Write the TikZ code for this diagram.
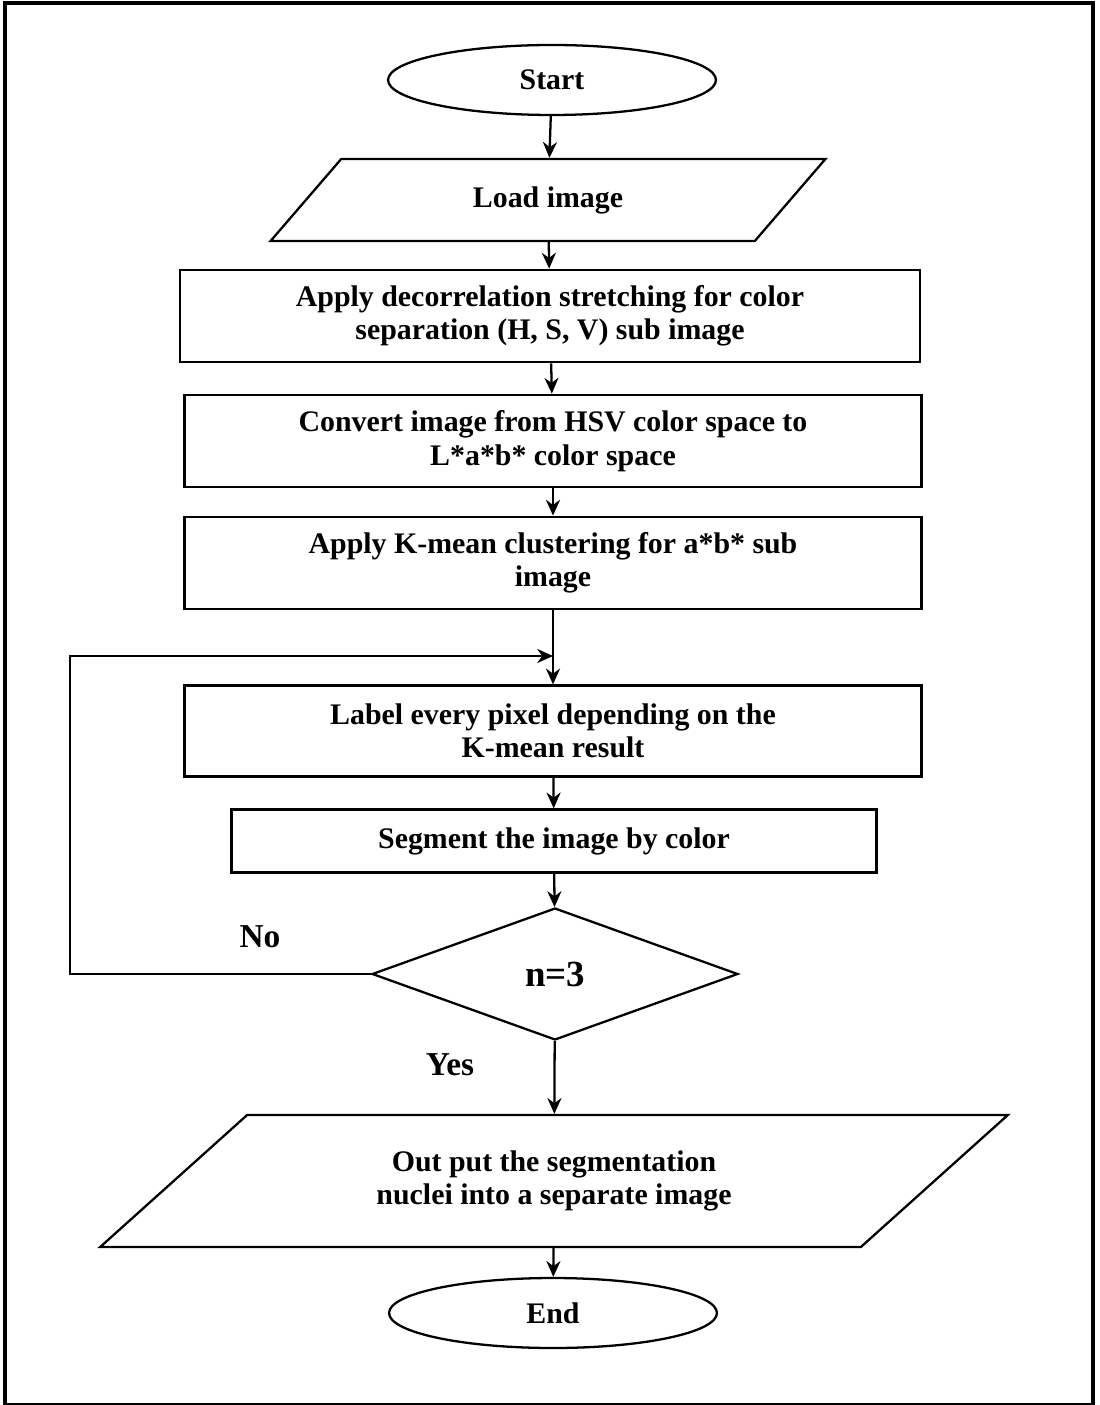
\documentclass[tikz,border=0pt]{standalone}
\usepackage{fontspec}
\setmainfont{Liberation Serif}
\usetikzlibrary{shapes.geometric,arrows.meta}

\tikzset{
    every node/.style = {font=\fontsize{17}{19}\selectfont\bfseries, align=center, draw, line width=1.3pt, inner sep=2pt},
    term/.style = {ellipse, minimum width=6.56cm, minimum height=1.4cm},
    io/.style = {trapezium, trapezium stretches=true},
    process/.style = {rectangle, minimum height=1.85cm},
    test/.style = {diamond, aspect=2.77, minimum width=7.32cm, minimum height=2.64cm, inner sep=0pt},
    flow/.style = {-{Stealth[length=9pt,width=8pt]}, line width=1.3pt},
    tag/.style = {draw=none, font=\fontsize{19}{21}\selectfont\bfseries}
}

\begin{document}
\begin{tikzpicture}[x=0.02cm, y=-0.02cm]
    \useasboundingbox (0,0) rectangle (1099,1405);
    \draw[line width=2.2pt] (5,3) rectangle (1093,1405);

    \node (start) [term] at (552,80) {Start};
    \node (load) [io, trapezium left angle=52, trapezium right angle=128,
        minimum width=11.1cm, minimum height=1.64cm] at (548,200) {Load image};
    \node (decor) [process, minimum width=14.8cm] at (550,316)
        {Apply decorrelation stretching for color\\separation (H, S, V) sub image};
    \node (convert) [process, minimum width=14.74cm] at (553,441)
        {Convert image from HSV color space to\\L*a*b* color space};
    \node (kmean) [process, minimum width=14.74cm] at (553,563)
        {Apply K-mean clustering for a*b* sub\\image};
    \node (label) [process, minimum width=14.74cm, minimum height=1.82cm] at (553,731)
        {Label every pixel depending on the\\K-mean result};
    \node (segment) [rectangle, minimum width=12.9cm, minimum height=1.26cm] at (554,841)
        {Segment the image by color};
    \node (check) [test] at (555,974) {\fontsize{21}{23}\selectfont n=3};
    \node (output) [io, trapezium left angle=38, trapezium right angle=142,
        minimum width=18.16cm, minimum height=2.64cm] at (554,1181)
        {Out put the segmentation\\nuclei into a separate image};
    \node (finish) [term] at (553,1313) {End};

    \node (no) [tag] at (260,937) {No};
    \node (yes) [tag] at (450,1065) {Yes};

    \coordinate (join) at (553,656);
    \coordinate (bendA) at (70,974);
    \coordinate (bendB) at (70,656);

    \draw[flow] (start) -- (load);
    \draw[flow] (load) -- (decor);
    \draw[flow] (decor) -- (convert);
    \draw[flow] (convert) -- (kmean);
    \draw[flow] (kmean) -- (label);
    \draw[flow] (label) -- (segment);
    \draw[flow] (segment) -- (check);
    \draw[flow] (check) -- (output);
    \draw[flow] (output) -- (finish);
    \draw[flow] (check.west) -- (bendA) -- (bendB) -- (join);
\end{tikzpicture}
\end{document}
